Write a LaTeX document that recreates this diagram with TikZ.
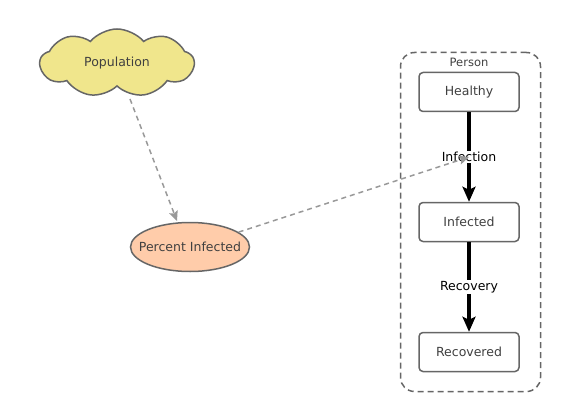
\documentclass[tikz,border=0pt]{standalone}
\usepackage{fontspec}
\setmainfont{DejaVu Sans}
\usepackage{tikz}
\usetikzlibrary{calc}
\usetikzlibrary{positioning}
\usetikzlibrary{shapes}
\usetikzlibrary{shapes.symbols}
\usetikzlibrary{arrows.meta}

\definecolor{linegray}{HTML}{666666}
\definecolor{arrowgray}{HTML}{999999}
\definecolor{cloudfill}{HTML}{F0E68C}
\definecolor{peach}{HTML}{FFCCAA}

\tikzset{
	statebox/.style={rectangle, rounded corners=4pt, draw=linegray, line width=1.5pt, fill=white,
		minimum width=100pt, minimum height=39pt, font=\fontsize{12.5}{14}\selectfont\color{black!75}},
	flow/.style={line width=3.5pt, -{Stealth[length=15pt, width=13pt, inset=3pt]}},
	link/.style={draw=arrowgray, line width=1.5pt, dash pattern=on 5pt off 4pt, -{Stealth[length=10pt, width=9pt, inset=2pt]}},
	flowlabel/.style={fill=white, inner sep=1pt, font=\fontsize{12.5}{14}\selectfont},
}

\begin{document}
\begin{tikzpicture}[x=1pt, y=-1pt]
				\useasboundingbox (0,0) rectangle (569,414);
				\node[draw=linegray, dash pattern=on 6pt off 4pt, line width=1.5pt, rounded corners=14pt,
					minimum width=140pt, minimum height=339pt] (person) at (470.5,222) {};
				\node[font=\fontsize{11.5}{13}\selectfont\color{black!75}] (personlabel) at (469,62) {Person};

				\node[cloud, cloud puffs=9, cloud puff arc=100, cloud ignores aspect, draw=linegray, line width=1.5pt, fill=cloudfill,
					minimum width=154pt, minimum height=68pt, font=\fontsize{12.5}{14}\selectfont\color{black!75}] (pop) at (117,63) {Population};
				\node[ellipse, draw=linegray, line width=1.5pt, fill=peach, minimum width=119pt, minimum height=49pt,
					inner xsep=-14.5pt, inner ysep=0pt, font=\fontsize{12.5}{14}\selectfont\color{black!75}] (pct) at (190,247) {Percent Infected};

				\node[statebox] (healthy) at (469,92) {Healthy};
				\node[statebox] (infected) at (469,222) {Infected};
				\node[statebox] (recovered) at (469,352) {Recovered};

				\draw[flow] (healthy) -- (infected) node[midway, flowlabel] (infection) {Infection};
				\draw[flow] (infected) -- (recovered) node[midway, flowlabel] (recovery) {Recovery};

				\coordinate (popout) at (130,99);
				\coordinate (pctin) at (177,221);
				\draw[link] (popout) -- (pctin);
				\draw[link] (pct.17) -- (infection.center);
			\end{tikzpicture}
\end{document}
